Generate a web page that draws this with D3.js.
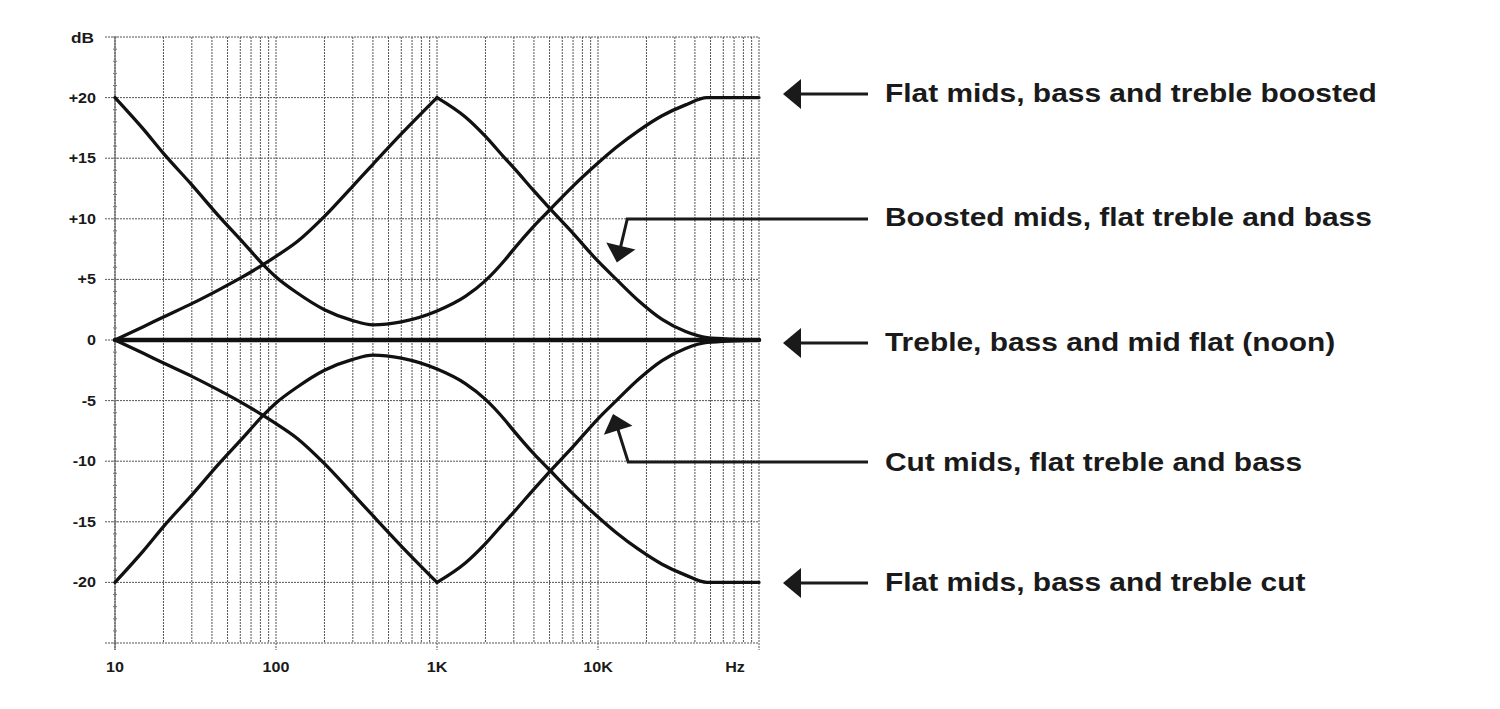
<!DOCTYPE html>
<html>
<head>
<meta charset="utf-8">
<script src="https://cdn.jsdelivr.net/npm/d3@7"></script>
<style>
  html, body { margin: 0; padding: 0; background: #fff; }
  svg { display: block; }
  text { font-family: "Liberation Sans", Arial, Helvetica, sans-serif; font-weight: bold; fill: #1a1a1a; }
</style>
</head>
<body>
<svg id="chart" width="1500" height="709"></svg>
<script>
// ---------------- DATA ----------------
const freqs = [10, 15, 20, 30, 45, 60, 85, 100, 135, 200, 300, 400, 600, 1000,
               1500, 2000, 2640, 3000, 4000, 4900, 7000, 10000, 13000, 18000,
               25000, 35000, 47500, 100000];

// Flat mids, bass and treble boosted
const bassTrebleBoost = [20, 17.4, 15.4, 12.8, 10.1, 8.3, 6.1, 5.2, 3.9, 2.5, 1.6, 1.25, 1.5, 2.4,
                         3.6, 4.9, 6.6, 7.5, 9.4, 10.6, 12.7, 14.6, 15.9, 17.3,
                         18.5, 19.4, 20, 20];
// Boosted mids, flat treble and bass
const midBoost = [0, 1.1, 1.9, 3.0, 4.2, 5.1, 6.3, 6.9, 8.1, 10.2, 12.7, 14.5, 17.0, 20,
                  18.4, 16.8, 15.0, 14.2, 12.3, 11.0, 8.8, 6.5, 5.0, 3.2,
                  1.7, 0.7, 0.2, 0];
// Treble, bass and mid flat (noon)
const allFlat = [0, 0, 0, 0, 0, 0, 0, 0, 0, 0, 0, 0, 0, 0,
                 0, 0, 0, 0, 0, 0, 0, 0, 0, 0,
                 0, 0, 0, 0];
// Cut mids, flat treble and bass
const midCut = [0, -1.1, -1.9, -3.0, -4.2, -5.1, -6.3, -6.9, -8.1, -10.2, -12.7, -14.5, -17.0, -20,
                -18.4, -16.8, -15.0, -14.2, -12.3, -11.0, -8.8, -6.5, -5.0, -3.2,
                -1.7, -0.7, -0.2, 0];
// Flat mids, bass and treble cut
const bassTrebleCut = [-20, -17.4, -15.4, -12.8, -10.1, -8.3, -6.1, -5.2, -3.9, -2.5, -1.6, -1.25, -1.5, -2.4,
                       -3.6, -4.9, -6.6, -7.5, -9.4, -10.6, -12.7, -14.6, -15.9, -17.3,
                       -18.5, -19.4, -20, -20];

const yTickValues = [20, 15, 10, 5, 0, -5, -10, -15, -20];
const yTickLabels = ["+20", "+15", "+10", "+5", "0", "-5", "-10", "-15", "-20"];
const xTickValues = [10, 100, 1000, 10000, 71000];
const xTickLabels = ["10", "100", "1K", "10K", "Hz"];

const labelTexts = ["Flat mids, bass and treble boosted",
                    "Boosted mids, flat treble and bass",
                    "Treble, bass and mid flat (noon)",
                    "Cut mids, flat treble and bass",
                    "Flat mids, bass and treble cut"];

// ---------------- LAYOUT ----------------
const labelCentersPx = [92, 216, 341, 461, 581];
const svg = d3.select("#chart");
const x = d3.scaleLog().domain([10, 100000]).range([115, 759]);
const y = d3.scaleLinear().domain([-25, 25]).range([643, 37]);
const STRETCH = 1.15;

function stretchText(sel) {
  sel.each(function () {
    const w = this.getComputedTextLength();
    d3.select(this).attr("textLength", w * STRETCH).attr("lengthAdjust", "spacingAndGlyphs");
  });
}

// grid - vertical
const vLines = [];
[10, 100, 1000, 10000].forEach(d => { for (let k = 1; k <= 9; k++) vLines.push(d * k); });
vLines.push(100000);
const grid = svg.append("g").attr("class", "grid");
grid.selectAll("line.v").data(vLines).enter().append("line")
  .attr("x1", d => x(d)).attr("x2", d => x(d))
  .attr("y1", y(25))
  .attr("y2", d => (Math.abs(Math.log10(d) % 1) < 1e-9 ? y(-25) + 7 : y(-25)))
  .attr("stroke", "#555").attr("stroke-width", 1)
  .attr("stroke-dasharray", "2,1");

// grid - horizontal
const hVals = d3.range(-25, 25.01, 5);
grid.selectAll("line.h").data(hVals).enter().append("line")
  .attr("x1", x(10) - 10).attr("x2", x(100000))
  .attr("y1", d => y(d)).attr("y2", d => y(d))
  .attr("stroke", "#555").attr("stroke-width", 1)
  .attr("stroke-dasharray", "2,1");

// left axis with minor ticks
grid.append("line").attr("x1", x(10)).attr("x2", x(10)).attr("y1", y(25)).attr("y2", y(-25) + 7)
  .attr("stroke", "#555").attr("stroke-width", 1);
grid.selectAll("line.m").data(d3.range(-25, 25.01, 1)).enter().append("line")
  .attr("x1", x(10) - 2).attr("x2", x(10) + 2)
  .attr("y1", d => y(d)).attr("y2", d => y(d))
  .attr("stroke", "#777").attr("stroke-width", 1);

// y tick labels
svg.append("g").selectAll("text").data(yTickValues).enter().append("text")
  .attr("x", 96).attr("y", d => y(d) + 5)
  .attr("text-anchor", "end").attr("font-size", 14)
  .text((d, i) => yTickLabels[i]).call(stretchText);
svg.append("text").attr("x", 94).attr("y", y(25) + 6)
  .attr("text-anchor", "end").attr("font-size", 15).text("dB").call(stretchText);

// x tick labels
svg.append("g").selectAll("text").data(xTickValues).enter().append("text")
  .attr("x", d => x(d)).attr("y", 672)
  .attr("text-anchor", "middle").attr("font-size", 14)
  .text((d, i) => xTickLabels[i]).call(stretchText);

// ---------------- CURVES ----------------
const line = d3.line().x(d => x(d[0])).y(d => y(d[1])).curve(d3.curveMonotoneX);
function pairs(vals) { return freqs.map((f, i) => [f, vals[i]]); }
const curves = svg.append("g");

function drawCurve(vals, width, splitAt) {
  const pts = pairs(vals);
  const parts = splitAt ? [pts.filter(p => p[0] <= splitAt), pts.filter(p => p[0] >= splitAt)] : [pts];
  parts.forEach(p => curves.append("path").datum(p).attr("d", line)
    .attr("fill", "none").attr("stroke", "#111").attr("stroke-width", width)
    .attr("stroke-linejoin", "round").attr("stroke-linecap", "round"));
}
drawCurve(allFlat, 4.5);
drawCurve(bassTrebleBoost, 3.3);
drawCurve(bassTrebleCut, 3.3);
drawCurve(midBoost, 3.3, 1000);
drawCurve(midCut, 3.3, 1000);

// ---------------- ANNOTATIONS ----------------
const ann = svg.append("g");
labelTexts.forEach((t, i) => {
  ann.append("text").attr("x", 885).attr("y", labelCentersPx[i] + 9.5)
    .attr("font-size", 26).text(t).call(stretchText);
});

function arrow(points, headLen, headHalf) {
  const tip = points[points.length - 1];
  const prev = points[points.length - 2];
  const dx = tip[0] - prev[0], dy = tip[1] - prev[1];
  const L = Math.hypot(dx, dy), ux = dx / L, uy = dy / L;
  const bx = tip[0] - ux * headLen, by = tip[1] - uy * headLen;
  const shaft = points.slice(0, -1).concat([[bx + ux * 2, by + uy * 2]]);
  ann.append("path").attr("d", d3.line()(shaft)).attr("fill", "none")
    .attr("stroke", "#1a1a1a").attr("stroke-width", 3).attr("stroke-linejoin", "miter");
  ann.append("path").attr("d", d3.line()([
      tip,
      [bx - uy * headHalf, by + ux * headHalf],
      [bx + uy * headHalf, by - ux * headHalf]]) + "Z")
    .attr("fill", "#1a1a1a");
}
// straight arrows
[0, 2, 4].forEach(i => {
  const yy = labelCentersPx[i] + 2;
  arrow([[868, yy], [783, yy]], 18, 15);
});
// bent arrows
arrow([[868, labelCentersPx[1] + 3], [x(15200), labelCentersPx[1] + 3], [x(13100), y(6.4)]], 17, 15);
arrow([[868, labelCentersPx[3] + 1], [x(15400), labelCentersPx[3] + 1], [x(12400), y(-6.1)]], 17, 15);
</script>
</body>
</html>
